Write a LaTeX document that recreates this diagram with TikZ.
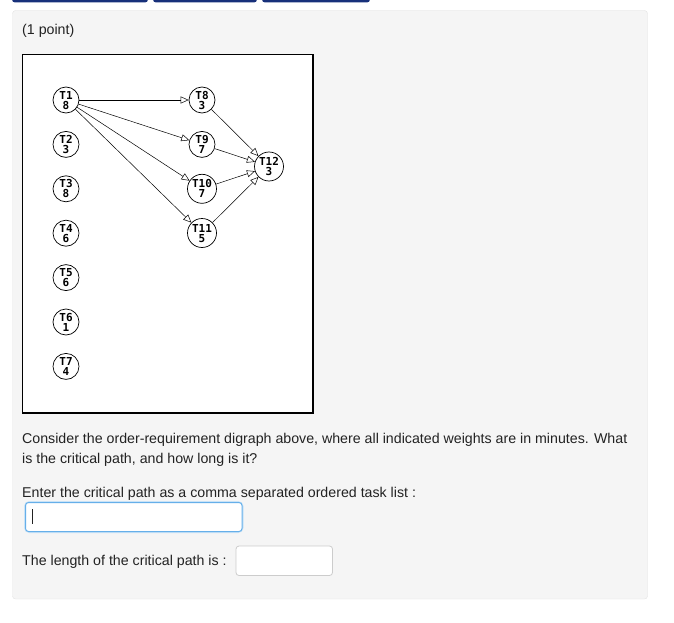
\documentclass[tikz,border=0pt]{standalone}
\usepackage{fontspec}
\setmainfont{Liberation Sans}
\newfontfamily\taskfont{DejaVu Sans Mono}
\usetikzlibrary{arrows.meta}
\definecolor{panelbg}{HTML}{F5F5F5}
\definecolor{panelline}{HTML}{E3E3E3}
\definecolor{tabblue}{HTML}{17307A}
\definecolor{inputblue}{HTML}{66AFE9}
\definecolor{txt}{HTML}{222222}
\tikzset{
  task/.style={draw,circle,line width=0.7pt,minimum size=26pt,inner sep=0pt,
    align=center,text depth=-5pt,font=\taskfont\bfseries\fontsize{11}{10}\selectfont},
  widetask/.style={task,minimum size=29pt},
  req/.style={-{Triangle[open,length=8pt,width=7pt]},line width=0.5pt},
  para/.style={anchor=base west,inner sep=0pt,text=txt,font=\fontsize{14.2}{20}\selectfont}
}
\begin{document}
\begin{tikzpicture}[x=1pt,y=-1pt]
  \useasboundingbox (0,0) rectangle (674,623);
  % tabs at the top
  \foreach \a/\b in {12/148,153/257,262/370} {
    \fill[tabblue,rounded corners=3pt] (\a,-8) rectangle (\b,2.5);
  }
  % panel
  \filldraw[fill=panelbg,draw=panelline,rounded corners=3pt] (12.5,10.5) rectangle (647.5,599);
  \node[para] (pts) at (22,35) {(1 point)};
  % digraph
  \filldraw[fill=white,draw=black,line width=1.3pt] (22.5,54.5) rectangle (313,413);
  \foreach \n/\w [count=\i from 0] in {1/8,2/3,3/8,4/6,5/6,6/1,7/4} {
    \node[task] (T\n) at (66,100+44.4*\i) {T\n\\\w};
  }
  \node[task] (T8) at (202,100) {T8\\3};
  \node[task] (T9) at (202,144.4) {T9\\7};
  \node[widetask] (T10) at (202,188.8) {T10\\7};
  \node[widetask] (T11) at (202,233) {T11\\5};
  \node[widetask] (T12) at (269,166.5) {T12\\3};
  \foreach \t in {8,9,10,11} {
    \draw[req] (T1) -- (T\t);
    \draw[req] (T\t) -- (T12);
  }
  % question
  \node[para] (q1) at (22,443) {Consider the order-requirement digraph above, where all indicated weights are in minutes. What};
  \node[para] (q2) at (22,463) {is the critical path, and how long is it?};
  \node[para] (q3) at (22,497) {Enter the critical path as a comma separated ordered task list :};
  \draw[inputblue!35,line width=3pt,rounded corners=4pt] (25.5,502.5) rectangle (242,531.5);
  \filldraw[fill=white,draw=inputblue,line width=1pt,rounded corners=3pt] (25.5,502.5) rectangle (242,531.5);
  \draw[txt,line width=0.8pt] (32.5,509) -- (32.5,524);
  \node[para] (q4) at (22,565) {The length of the critical path is :};
  \filldraw[fill=white,draw=black!20,line width=0.8pt,rounded corners=3pt] (236,546) rectangle (332.5,575.5);
\end{tikzpicture}
\end{document}
